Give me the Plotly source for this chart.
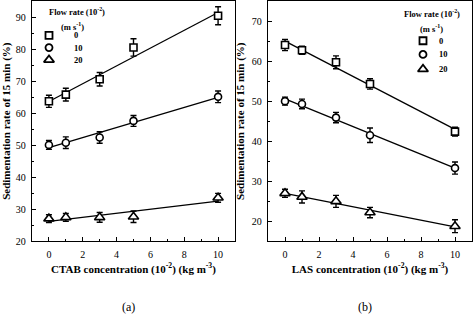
import numpy as np
import plotly.graph_objects as go

# Surfactant concentrations (10^-2 kg m^-3)
conc = [0, 1, 3, 5, 10]
flow_labels = ["0", "10", "20"]
symbols = ["square", "circle", "triangle-up"]
marker_sizes = [7, 7, 9]

# (a) CTAB: sedimentation rate of 15 min (%) and error bars
ctab_rate = {
    "0": [63.7, 65.8, 70.6, 80.5, 90.4],
    "10": [50.1, 50.8, 52.4, 57.6, 65.1],
    "20": [27.1, 27.5, 27.5, 27.7, 33.6],
}
ctab_err = {
    "0": [1.9, 2.0, 2.1, 2.7, 2.8],
    "10": [1.4, 1.8, 1.8, 1.7, 1.8],
    "20": [1.2, 1.2, 1.5, 1.8, 1.4],
}

# (b) LAS: sedimentation rate of 15 min (%) and error bars
las_rate = {
    "0": [64.0, 62.7, 59.7, 54.3, 42.4],
    "10": [50.0, 49.3, 45.9, 41.5, 33.3],
    "20": [27.0, 26.1, 25.0, 22.2, 18.8],
}
las_err = {
    "0": [1.4, 1.0, 1.6, 1.3, 1.1],
    "10": [1.0, 1.2, 1.3, 1.8, 1.5],
    "20": [1.0, 1.5, 1.5, 1.3, 1.6],
}

W, H = 474, 322
FONT = "Liberation Serif"

fig = go.Figure()


def add_panel(rates, errs, xa, ya):
    for lab, sym, ms in zip(flow_labels, symbols, marker_sizes):
        y = np.array(rates[lab])
        x = np.array(conc, dtype=float)
        k, b = np.polyfit(x, y, 1)
        xf = np.array([x.min(), x.max()])
        fig.add_trace(go.Scatter(
            x=xf, y=k * xf + b, mode="lines",
            line=dict(color="black", width=1.3),
            xaxis=xa, yaxis=ya, showlegend=False, hoverinfo="skip"))
        fig.add_trace(go.Scatter(
            x=x, y=y, mode="markers",
            marker=dict(symbol=sym, size=ms, color="white",
                        line=dict(color="black", width=1.6)),
            error_y=dict(type="data", array=errs[lab], color="black",
                         thickness=1.4, width=3),
            xaxis=xa, yaxis=ya, showlegend=False))


add_panel(ctab_rate, ctab_err, "x", "y")
add_panel(las_rate, las_err, "x2", "y2")

# Legend keys drawn on a pixel-scaled overlay axis
legend_keys = [
    (49, [36, 48.5, 61]),
    (423, [41.5, 55.5, 70.5]),
]
for kx, ky in legend_keys:
    for yy, sym, ms in zip(ky, symbols, marker_sizes):
        fig.add_trace(go.Scatter(
            x=[kx], y=[yy], mode="markers",
            marker=dict(symbol=sym, size=ms, color="white",
                        line=dict(color="black", width=1.8)),
            xaxis="x3", yaxis="y3", showlegend=False, hoverinfo="skip"))

tick_font = dict(family=FONT, size=10, color="black")
title_font = dict(family=FONT, size=11, color="black")

common_x = dict(
    range=[-1, 11], tickvals=[0, 2, 4, 6, 8, 10], ticks="inside", ticklen=4,
    tickwidth=1.2, tickcolor="black", showline=True, linecolor="black",
    linewidth=1.4, mirror=True, showgrid=False, zeroline=False,
    tickfont=tick_font, minor=dict(dtick=1, ticks="inside", ticklen=2,
                                   tickcolor="black", tickwidth=1),
    ticklabelstandoff=3,
)
common_y = dict(
    ticks="inside", ticklen=4, tickwidth=1.2, tickcolor="black",
    showline=True, linecolor="black", linewidth=1.4, mirror=True,
    showgrid=False, zeroline=False, tickfont=tick_font, dtick=10,
    minor=dict(dtick=5, ticks="inside", ticklen=2, tickcolor="black",
               tickwidth=1),
    ticklabelstandoff=3,
)

ydom = [1 - 246 / H, 1 - 1 / H]
fig.update_layout(
    width=W, height=H, margin=dict(l=0, r=0, t=0, b=0),
    paper_bgcolor="white", plot_bgcolor="rgba(0,0,0,0)", showlegend=False,
    xaxis=dict(domain=[32 / W, 235 / W], anchor="y", **common_x,
               title=dict(text="<b>CTAB concentration (10<sup>-2</sup>) (kg m<sup>-3</sup>)</b>",
                          font=title_font, standoff=6)),
    yaxis=dict(domain=ydom, anchor="x", range=[20, 95], tick0=20, **common_y,
               title=dict(text="<b>Sedimentation rate of 15 min (%)</b>",
                          font=title_font, standoff=4)),
    xaxis2=dict(domain=[268 / W, 472 / W], anchor="y2", **common_x,
                title=dict(text="<b>LAS concentration (10<sup>-2</sup>) (kg m<sup>-3</sup>)</b>",
                           font=title_font, standoff=6)),
    yaxis2=dict(domain=ydom, anchor="x2", range=[15, 75], tick0=20, **common_y,
                title=dict(text="<b>Sedimentation rate of 15 min (%)</b>",
                           font=title_font, standoff=4)),
    xaxis3=dict(domain=[0, 1], range=[0, W], visible=False, fixedrange=True),
    yaxis3=dict(domain=[0, 1], range=[H, 0], visible=False, fixedrange=True,
                anchor="x3"),
)

ann = []
leg_font = dict(family=FONT, size=8.5, color="black")
# Legend headings and labels
for hx, hy, ux, uy, lx, ly in [
    (47, 12, 59, 26.5, 72, [36, 48.5, 61]),
    (402, 14, 418, 29.5, 437, [41.5, 55.5, 70.5]),
]:
    ann.append(dict(x=hx, y=hy, xref="x3", yref="y3", xanchor="left",
                    yanchor="middle", showarrow=False, font=leg_font,
                    text="<b>Flow rate (10<sup>-2</sup>)</b>"))
    ann.append(dict(x=ux, y=uy, xref="x3", yref="y3", xanchor="left",
                    yanchor="middle", showarrow=False, font=leg_font,
                    text="<b>(m s<sup>-1</sup>)</b>"))
    for yy, lab in zip(ly, flow_labels):
        ann.append(dict(x=lx, y=yy, xref="x3", yref="y3", xanchor="left",
                        yanchor="middle", showarrow=False, font=leg_font,
                        text=f"<b>{lab}</b>"))
# Panel captions
cap_font = dict(family=FONT, size=12, color="black")
ann.append(dict(x=128, y=313, xref="x3", yref="y3", showarrow=False,
                font=cap_font, text="(a)"))
ann.append(dict(x=365, y=313, xref="x3", yref="y3", showarrow=False,
                font=cap_font, text="(b)"))
fig.update_layout(annotations=ann)

fig.write_html("out.html")
